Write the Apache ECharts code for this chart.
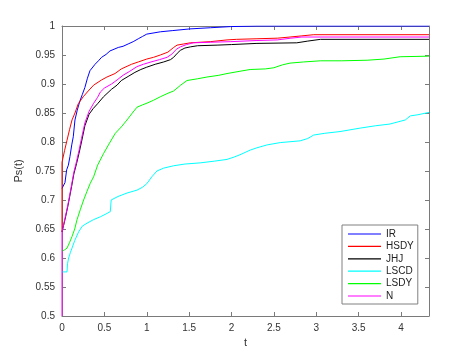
<!DOCTYPE html>
<html>
<head>
<meta charset="utf-8">
<script src="https://cdn.jsdelivr.net/npm/echarts@6/dist/echarts.min.js"></script>
<style>html,body{margin:0;padding:0;background:#fff;}#c{width:474px;height:355px;}</style>
</head>
<body>
<div id="c"></div>
<script>
const seriesNames = ['IR','HSDY','JHJ','LSCD','LSDY','N'];
const xTicks = [0,0.5,1,1.5,2,2.5,3,3.5,4];
const yTicks = [0.5,0.55,0.6,0.65,0.7,0.75,0.8,0.85,0.9,0.95,1];

const irData = [[0,0.72],[0.02,0.722],[0.035,0.73],[0.055,0.752],[0.075,0.76],[0.094,0.775],[0.115,0.795],[0.133,0.809],[0.153,0.838],[0.18,0.855],[0.212,0.871],[0.24,0.882],[0.27,0.894],[0.3,0.91],[0.33,0.923],[0.39,0.934],[0.43,0.94],[0.467,0.946],[0.52,0.951],[0.566,0.957],[0.664,0.963],[0.72,0.965],[0.78,0.969],[0.84,0.973],[0.9,0.978],[0.95,0.982],[1.0,0.986],[1.16,0.99],[1.3,0.992],[1.51,0.995],[1.75,0.997],[1.99,0.999],[2.3,1.0],[4.33,1.0]];
const hsdyData = [[0,0.645],[0,0.765],[0.03,0.785],[0.059,0.803],[0.09,0.822],[0.118,0.838],[0.153,0.85],[0.192,0.866],[0.25,0.878],[0.31,0.888],[0.373,0.898],[0.467,0.907],[0.53,0.912],[0.625,0.918],[0.7,0.926],[0.82,0.934],[0.9,0.938],[1.0,0.943],[1.08,0.946],[1.16,0.950],[1.25,0.955],[1.317,0.963],[1.357,0.967],[1.435,0.969],[1.514,0.971],[1.75,0.973],[1.947,0.976],[2.06,0.977],[2.30,0.978],[2.54,0.979],[2.69,0.981],[2.83,0.983],[2.97,0.985],[4.33,0.985]];
const jhjData = [[0,0.645],[0.035,0.666],[0.07,0.69],[0.113,0.723],[0.14,0.745],[0.172,0.763],[0.2,0.78],[0.23,0.80],[0.27,0.828],[0.32,0.848],[0.37,0.858],[0.42,0.866],[0.49,0.878],[0.585,0.891],[0.649,0.898],[0.70,0.906],[0.78,0.913],[0.86,0.920],[0.93,0.925],[1.0,0.929],[1.1,0.934],[1.2,0.938],[1.28,0.942],[1.317,0.946],[1.36,0.953],[1.396,0.958],[1.45,0.962],[1.514,0.964],[1.6,0.966],[1.83,0.967],[2.0,0.968],[2.3,0.970],[2.77,0.971],[2.9,0.974],[3.05,0.977],[4.33,0.977]];
const lscdData = [[0,0.576],[0.059,0.576],[0.065,0.59],[0.078,0.60],[0.1,0.61],[0.118,0.617],[0.15,0.63],[0.196,0.645],[0.24,0.655],[0.295,0.66],[0.37,0.666],[0.452,0.671],[0.52,0.676],[0.57,0.68],[0.58,0.70],[0.66,0.706],[0.767,0.712],[0.885,0.717],[0.95,0.722],[1.0,0.728],[1.06,0.74],[1.12,0.75],[1.2,0.755],[1.317,0.759],[1.45,0.762],[1.63,0.764],[1.8,0.767],[1.947,0.770],[2.03,0.774],[2.1,0.778],[2.22,0.786],[2.3,0.79],[2.42,0.795],[2.576,0.799],[2.81,0.802],[2.9,0.806],[2.97,0.812],[3.1,0.815],[3.28,0.818],[3.52,0.824],[3.7,0.828],[3.87,0.831],[4.05,0.838],[4.11,0.845],[4.2,0.847],[4.33,0.851]];
const lsdyData = [[0,0.612],[0.03,0.614],[0.059,0.617],[0.09,0.627],[0.118,0.637],[0.15,0.65],[0.177,0.666],[0.215,0.683],[0.255,0.70],[0.295,0.715],[0.334,0.729],[0.373,0.74],[0.42,0.76],[0.49,0.78],[0.56,0.798],[0.629,0.815],[0.7,0.826],[0.767,0.838],[0.83,0.85],[0.885,0.86],[0.95,0.864],[1.003,0.867],[1.08,0.872],[1.16,0.878],[1.25,0.884],[1.317,0.888],[1.4,0.898],[1.475,0.906],[1.6,0.909],[1.71,0.912],[1.85,0.915],[1.947,0.918],[2.1,0.922],[2.22,0.925],[2.4,0.926],[2.5,0.928],[2.6,0.933],[2.69,0.936],[2.85,0.938],[3.05,0.940],[3.3,0.940],[3.6,0.941],[3.8,0.943],[3.99,0.947],[4.33,0.948]];
const nData = [[0,0.5],[0,0.645],[0.035,0.668],[0.07,0.692],[0.113,0.726],[0.14,0.748],[0.172,0.767],[0.2,0.785],[0.23,0.806],[0.27,0.833],[0.32,0.853],[0.37,0.866],[0.42,0.877],[0.452,0.886],[0.5,0.893],[0.585,0.90],[0.65,0.907],[0.72,0.915],[0.8,0.922],[0.885,0.93],[0.96,0.934],[1.05,0.938],[1.15,0.942],[1.24,0.946],[1.3,0.952],[1.35,0.96],[1.396,0.964],[1.47,0.968],[1.55,0.971],[1.75,0.972],[1.99,0.973],[2.3,0.975],[2.54,0.976],[2.7,0.979],[2.83,0.981],[4.33,0.981]];

const allData = [irData, hsdyData, jhjData, lscdData, lsdyData, nData];
const colors = ['#0000ff','#ff0000','#000000','#00ffff','#00ff00','#ff00ff'];

const axisGray = '#7a7a7a';
const labelColor = '#333333';
const font = 'Liberation Sans, Arial, sans-serif';
const xMin = 0, xMax = 4.33, yMin = 0.5, yMax = 1;

const chart = echarts.init(document.getElementById('c'), null, {renderer:'canvas'});
const baseX = {
  type:'value', min:xMin, max:xMax, interval:0.5,
  axisLine:{show:true, onZero:false, lineStyle:{color:axisGray, width:1}},
  axisTick:{show:true, inside:true, length:4, lineStyle:{color:axisGray}},
  splitLine:{show:false}
};
const baseY = {
  type:'value', min:yMin, max:yMax, interval:0.05,
  axisLine:{show:true, onZero:false, lineStyle:{color:axisGray, width:1}},
  axisTick:{show:true, inside:true, length:4, lineStyle:{color:axisGray}},
  splitLine:{show:false}
};
chart.setOption({
  animation:false,
  backgroundColor:'#ffffff',
  grid:{left:62, top:26, right:45, bottom:39, containLabel:false},
  xAxis:[
    Object.assign({}, baseX, {position:'bottom', name:'t', nameLocation:'middle', nameGap:21,
      nameTextStyle:{color:labelColor, fontSize:11, fontFamily:font},
      axisLabel:{show:true, color:labelColor, fontSize:10, fontFamily:font, margin:7,
        formatter:function(v){return xTicks.indexOf(v)>=0 ? String(v) : '';}}}),
    Object.assign({}, baseX, {position:'top', axisLabel:{show:false}})
  ],
  yAxis:[
    Object.assign({}, baseY, {position:'left', name:'Ps(t)', nameLocation:'middle', nameGap:33,
      nameTextStyle:{color:labelColor, fontSize:11, fontFamily:font},
      axisLabel:{show:true, color:labelColor, fontSize:10, fontFamily:font, margin:7,
        formatter:function(v){var r=Math.round(v*100)/100; return yTicks.indexOf(r)>=0 ? String(r) : '';}}}),
    Object.assign({}, baseY, {position:'right', axisLabel:{show:false}})
  ],
  legend:{
    orient:'vertical', left:342, top:225,
    data:seriesNames.map(function(n){return {name:n, icon:'rect'};}),
    backgroundColor:'#ffffff', borderColor:'#808080', borderWidth:1,
    padding:[3,4,2,6], itemGap:0.4, itemWidth:33, itemHeight:1.2,
    textStyle:{color:'#222', fontSize:10, fontFamily:font, lineHeight:12}
  },
  series: seriesNames.map(function(name,i){
    return {
      name:name, type:'line', data:allData[i], showSymbol:false, symbol:'none',
      xAxisIndex:0, yAxisIndex:0, clip:true,
      lineStyle:{color:colors[i], width:1}, itemStyle:{color:colors[i]},
      emphasis:{disabled:true}, z:2+i
    };
  })
});
</script>
</body>
</html>
